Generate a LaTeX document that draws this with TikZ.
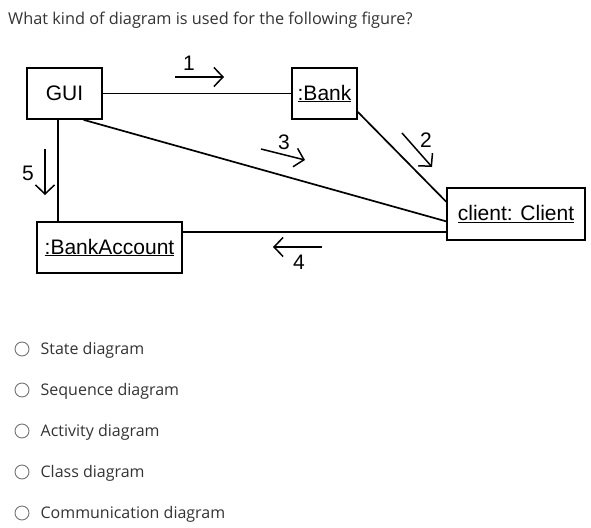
\documentclass[tikz,border=0pt]{standalone}
\usepackage{fontspec}
\setmainfont{Open Sans}
\newfontfamily\umlfont{Liberation Sans}
\usetikzlibrary{arrows.meta, positioning}
\definecolor{qtext}{HTML}{333333}

\begin{document}
\begin{tikzpicture}[
    x=1pt, y=-1pt,
    obj/.style={rectangle, draw, line width=1.7pt, inner sep=0pt, minimum height=51pt, font=\umlfont\fontsize{21}{24}\selectfont},
    link/.style={line width=1.7pt},
    msg/.style={-{Straight Barb[length=9pt,width=19pt]}, line width=1.5pt},
    num/.style={inner sep=0pt, font=\umlfont\fontsize{21}{24}\selectfont},
    radio/.style={circle, draw=black!55, line width=0.9pt, minimum size=14pt, inner sep=0pt},
    choice/.style={inner sep=0pt, text=qtext, font=\fontsize{16}{19}\selectfont}
]
    \useasboundingbox (0,0) rectangle (591,527);

    \node[anchor=west, inner sep=0pt, text=qtext, font=\fontsize{16.3}{19}\selectfont] (question) at (8,20) {What kind of diagram is used for the following figure?};

    % objects
    \node[obj, minimum width=75pt] (gui) at (64.5,93.5) {GUI};
    \node[obj, minimum width=65pt] (bank) at (324.5,93.5) {\underline{:Bank}};
    \node[obj, minimum width=145pt] (acct) at (109.5,247.5) {\underline{:BankAccount}};
    \node[obj, minimum width=138pt, minimum height=52pt] (client) at (516,214) {\underline{client: Client}};

    % links
    \draw[link] (gui.east) -- (bank.west);
    \draw[link] (gui.-54) -- (client.186.6);
    \draw[link] (bank.-29) -- (client.170);
    \draw[link] (gui.-104) -- (gui.-104 |- acct.north);
    \draw[link] (acct.12) -- (acct.12 -| client.west);

    % messages
    \coordinate (m1a) at (175,77);
    \coordinate (m1b) at (224,77);
    \coordinate (m2a) at (402,133);
    \coordinate (m2b) at (432,167);
    \coordinate (m3a) at (261,149);
    \coordinate (m3b) at (305,160);
    \coordinate (m4a) at (322,247);
    \coordinate (m4b) at (273,247);
    \coordinate (m5a) at (45,149);
    \coordinate (m5b) at (45,195);
    \draw[msg] (m1a) -- (m1b);
    \draw[msg] (m2a) -- (m2b);
    \draw[msg] (m3a) -- (m3b);
    \draw[msg] (m4a) -- (m4b);
    \draw[msg] (m5a) -- (m5b);
    \node[num] (n1) at (189,63) {1};
    \node[num] (n2) at (426,140) {2};
    \node[num] (n3) at (284,142) {3};
    \node[num] (n4) at (299,262) {4};
    \node[num] (n5) at (28,173) {5};

    % answer choices
    \node[radio] (r1) at (22,349) {};
    \node[radio] (r2) at (22,390) {};
    \node[radio] (r3) at (22,431) {};
    \node[radio] (r4) at (22,472) {};
    \node[radio] (r5) at (22,513) {};
    \node[choice, right=11pt of r1, yshift=-1.5pt] (c1) {State diagram};
    \node[choice, right=11pt of r2, yshift=-1.5pt] (c2) {Sequence diagram};
    \node[choice, right=11pt of r3, yshift=-1.5pt] (c3) {Activity diagram};
    \node[choice, right=11pt of r4, yshift=-1.5pt] (c4) {Class diagram};
    \node[choice, right=11pt of r5, yshift=-1.5pt] (c5) {Communication diagram};
\end{tikzpicture}
\end{document}
